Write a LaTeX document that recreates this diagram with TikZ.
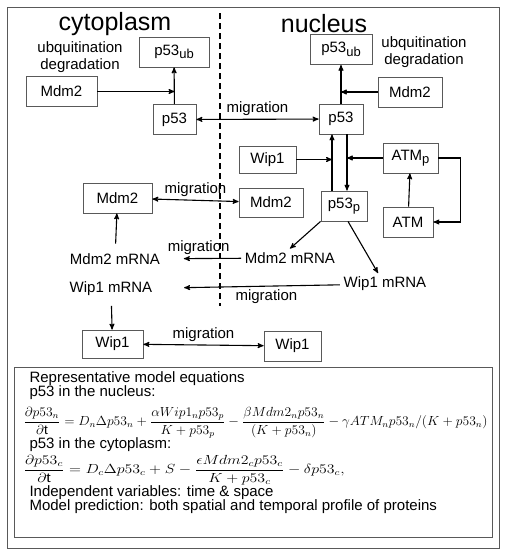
\documentclass[tikz,border=0pt]{standalone}
\usepackage{amsmath}
\usepackage{fontspec}
\setmainfont{Liberation Sans}
\usepackage{tikz}
\usetikzlibrary{
  arrows,
  positioning
}
\tikzset{
  ->,
  >=stealth',
  every node/.style={font=\fontsize{15}{17}\selectfont},
  box/.style={draw=gray!70!black, line width=0.8pt, minimum height=30pt, inner sep=2pt},
  head/.style={font=\fontsize{25}{28}\selectfont},
  frame/.style={-, draw=gray!70!black, line width=1pt},
  eqline/.style={anchor=west, inner sep=0pt},
  eqmath/.style={anchor=west, inner sep=0pt, font=\fontsize{12}{14}\selectfont}
}
\newcommand{\lowsub}[1]{\raisebox{-0.45ex}{\fontsize{13}{13}\selectfont #1}}
\newcommand{\wideeq}[2]{\resizebox{#1}{1.1\height}{#2}}

\begin{document}
\begin{tikzpicture}[x=1pt, y=-1pt, line width=1.1pt]
    \useasboundingbox (0,0) rectangle (510,550);
    \draw[frame] (7,7) rectangle (499,548);
    \draw[frame] (14,367) rectangle (492,537);

    \node[head] (cyto) at (115,24) {cytoplasm};
    \node[head] (nucl) at (324,24) {nucleus};
    \coordinate (dtop) at (220,13);
    \coordinate (dbot) at (220,306);
    \draw[-, dash pattern=on 6pt off 4pt] (dtop) -- (dbot);

    % cytoplasm
    \node[box, minimum width=70pt] (p53ubc) at (174,52) {p53\lowsub{ub}};
    \node[align=center] (ubc) at (80,57) {ubquitination\\degradation};
    \node[box, minimum width=71pt] (mdm2c) at (61.5,91.5) {Mdm2};
    \node[box, minimum width=43pt] (p53c) at (174.5,119.5) {p53};
    \node[box, minimum width=69pt] (mdm2cm) at (117.5,198) {Mdm2};
    \node (mrnamc) at (115,259) {Mdm2 mRNA};
    \node (mrnawc) at (111,289) {Wip1 mRNA};
    \node[box, minimum width=61pt, minimum height=28pt] (wip1c) at (112.5,344) {Wip1};

    % nucleus
    \node[box, minimum width=62pt] (p53ubn) at (341,49.5) {p53\lowsub{ub}};
    \node[align=center] (ubn) at (424,52) {ubquitination\\degradation};
    \node[box, minimum width=64pt] (mdm2n) at (410,92) {Mdm2};
    \node[box, minimum width=44pt] (p53n) at (341,119) {p53};
    \node[box, minimum width=57pt, minimum height=27pt] (wip1n) at (267.5,159.5) {Wip1};
    \node[box, minimum width=55pt] (atmp) at (410.5,158) {ATM\lowsub{p}};
    \node[box, minimum width=50pt] (atm) at (408,222) {ATM};
    \node[box, minimum width=46pt] (p53p) at (344,206) {p53\lowsub{p}};
    \node[box, minimum width=64pt, minimum height=29pt] (mdm2nm) at (271,202.5) {Mdm2};
    \node (mrnamn) at (290,258) {Mdm2 mRNA};
    \node (mrnawn) at (385,284) {Wip1 mRNA};
    \node[box, minimum width=57pt] (wip1n2) at (292.5,346) {Wip1};

    \draw (p53c) -- (p53ubc);
    \draw (mdm2c) -- (mdm2c -| p53c);
    \draw[<->] (p53c) -- node[above]{migration} (p53n);

    \draw (p53n) -- (p53ubn);
    \draw (mdm2n) -- (mdm2n -| p53n);

    \draw ([xshift=-12pt]p53p.north) -- ([xshift=-12pt]p53p.north |- p53n.south);
    \draw ([xshift=6pt]p53n.south) -- ([xshift=6pt]p53n.south |- p53p.north);
    \draw (wip1n) -- ([xshift=-12pt]p53p.north |- wip1n);
    \draw (atmp) -- ([xshift=6pt]p53n.south |- atmp);
    \draw (atm) -- (atmp);
    \draw (atmp.east) -- ++(22,0) |- (atm.east);

    \draw[<->] (mdm2cm) -- node[above]{migration} (mdm2nm);
    \draw (p53p.south west) -- (mrnamn.north);
    \draw ([xshift=4pt]p53p.south) -- ([xshift=-7pt]mrnawn.north);
    \draw[shorten >=20pt] (mrnamn) -- node[above, pos=0.55]{migration} (mrnamc);
    \draw[shorten >=28pt] (mrnawn) -- node[below, pos=0.4]{migration} (mrnawc);
    \draw[shorten <=6pt] (mrnamc) -- (mdm2cm);
    \draw[shorten <=6pt] (mrnawc) -- (wip1c);
    \draw[<->] (wip1c) -- node[above]{migration} (wip1n2);

    % equations
    \node[eqline] (eqhead) at (29,379) {Representative model equations};
    \node[eqline] (eqnuc) at (29,393) {p53 in the nucleus:};
    \node[eqmath] (eqn) at (23,423)
      {\wideeq{464pt}{$\dfrac{\partial p53_n}{\partial \mathrm{t}} = D_n\Delta p53_n
        + \dfrac{\alpha Wip1_n p53_p}{K+p53_p}
        - \dfrac{\beta Mdm2_n p53_n}{(K+p53_n)}
        - \gamma ATM_n p53_n/(K+p53_n)$}};
    \node[eqline] (eqcyt) at (29,445) {p53 in the cytoplasm:};
    \node[eqmath] (eqc) at (23,470)
      {\wideeq{321pt}{$\dfrac{\partial p53_c}{\partial \mathrm{t}} = D_c\Delta p53_c + S
        - \dfrac{\epsilon Mdm2_c p53_c}{K+p53_c} - \delta p53_c,$}};
    \node[eqline] (indep) at (29,493) {Independent variables: time \& space};
    \node[eqline] (pred) at (29,507) {Model prediction: both spatial and temporal profile of proteins};
  \end{tikzpicture}
\end{document}
